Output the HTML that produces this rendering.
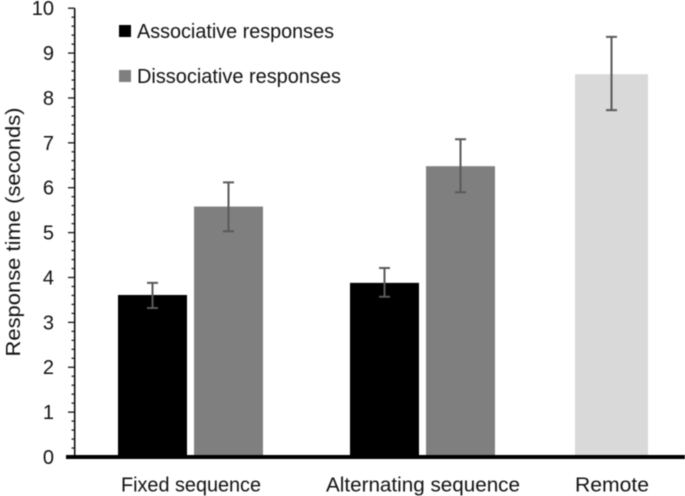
<!DOCTYPE html>
<html lang="en">
<head>
<meta charset="utf-8">
<title>Response time chart</title>
<style>
html,body{margin:0;padding:0;background:#fff;width:685px;height:496px;overflow:hidden}
svg{display:block;font-family:"Liberation Sans",sans-serif;filter:blur(.4px)}
text{fill:#111}
</style>
</head>
<body>
<svg id="chart" width="685" height="496" viewBox="0 0 685 496" xmlns="http://www.w3.org/2000/svg">
<text transform="translate(20,232) rotate(-90)" text-anchor="middle" font-size="20.5" textLength="249" lengthAdjust="spacingAndGlyphs">Response time (seconds)</text>
<g id="marks"></g>
<rect x="119" y="25" width="12" height="12" fill="#000"/>
<text x="137" y="38" font-size="20" textLength="197" lengthAdjust="spacingAndGlyphs">Associative responses</text>
<rect x="119" y="70" width="12" height="12" fill="#7f7f7f"/>
<text x="137" y="83" font-size="20" textLength="204" lengthAdjust="spacingAndGlyphs">Dissociative responses</text>
</svg>
<script>
var tickLabels = [0, 1, 2, 3, 4, 5, 6, 7, 8, 9, 10];
var categories = ['Fixed sequence', 'Alternating sequence', 'Remote'];
var barNames = ['fixed-associative', 'fixed-dissociative', 'alternating-associative', 'alternating-dissociative', 'remote'];
var barValues = [3.61, 5.58, 3.88, 6.48, 8.53];
var errorHigh = [3.88, 6.12, 4.21, 7.08, 9.36];
var errorLow = [3.32, 5.03, 3.57, 5.90, 7.73];
var barFills = ['#000000', '#7f7f7f', '#000000', '#7f7f7f', '#d9d9d9'];

var SVGNS = 'http://www.w3.org/2000/svg';
var marks = document.getElementById('marks');

function yScale(v) { return 457 - 44.88 * v; }
// Each of the five bars sits in a slot: pairs for two groups, one wider bar for Remote.
function barLeft(i) { return i < 2 ? 118 + i * 76 : i < 4 ? 350 + (i - 2) * 76 : 575; }
function barWidth(i) { return i < 4 ? 69 : 73; }
function categoryCenter(i) { return [191, 423, 612][i]; }
var categoryWidths = [140, 194, 74];

function make(tag, attrs) {
  var el = document.createElementNS(SVGNS, tag);
  for (var k in attrs) el.setAttribute(k, attrs[k]);
  marks.appendChild(el);
  return el;
}

barValues.forEach(function (v, i) {
  var top = yScale(v);
  var bar = make('rect', { x: barLeft(i), y: top, width: barWidth(i), height: yScale(0) - top, fill: barFills[i] });
  
  
});

barValues.forEach(function (v, i) {
  var cx = barLeft(i) + barWidth(i) / 2;
  var yh = yScale(errorHigh[i]);
  var yl = yScale(errorLow[i]);
  var err = make('path', {
    d: 'M' + cx + ' ' + yh + 'V' + yl + 'M' + (cx - 5.5) + ' ' + yh + 'H' + (cx + 5.5) + 'M' + (cx - 5.5) + ' ' + yl + 'H' + (cx + 5.5),
    stroke: '#595959', 'stroke-width': 2, fill: 'none'
  });
  
  
});

var yAxis = make('line', { x1: 74.7, x2: 74.7, y1: yScale(10), y2: yScale(0), stroke: '#111', 'stroke-width': 1.6 });



tickLabels.forEach(function (t, idx) {
  var y = yScale(t);
  var tick = make('line', { x1: 68, x2: 74.7, y1: y, y2: y, stroke: '#111', 'stroke-width': 1.3 });
  
  
  var label = make('text', { x: 54, y: y + 7, 'text-anchor': 'end', 'font-size': 20 });
  
  
  label.textContent = t;
  if (idx < tickLabels.length - 1) {
    for (var m = 1; m < 5; m++) {
      var my = yScale(t + m / 5);
      var minor = make('line', { x1: 71.5, x2: 74.7, y1: my, y2: my, stroke: '#111', 'stroke-width': 1.2 });
      
      
    }
  }
});

var xAxis = make('rect', { x: 66, y: 455, width: 619, height: 4, fill: '#000' });



categories.forEach(function (c, i) {
  var label = make('text', { x: categoryCenter(i), y: 491.5, 'text-anchor': 'middle', 'font-size': 20, textLength: categoryWidths[i], lengthAdjust: 'spacingAndGlyphs' });
  
  
  label.textContent = c;
});
</script>
</body>
</html>
